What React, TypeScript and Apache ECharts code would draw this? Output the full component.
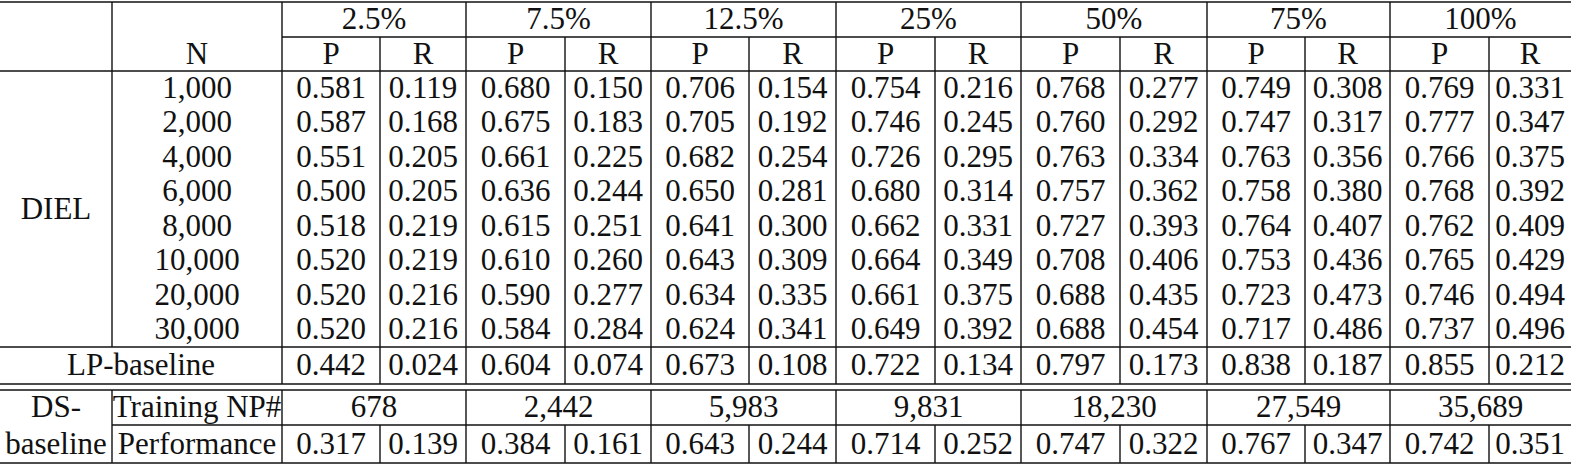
import React, { useEffect, useRef } from 'react';
import * as echarts from 'echarts';

// ---- table content ----
const groups = ['2.5%', '7.5%', '12.5%', '25%', '50%', '75%', '100%'];
const nValues = ['1,000', '2,000', '4,000', '6,000', '8,000', '10,000', '20,000', '30,000'];

// DIEL precision / recall, one row per N, one column per group
const dielP = [
  [0.581, 0.680, 0.706, 0.754, 0.768, 0.749, 0.769],
  [0.587, 0.675, 0.705, 0.746, 0.760, 0.747, 0.777],
  [0.551, 0.661, 0.682, 0.726, 0.763, 0.763, 0.766],
  [0.500, 0.636, 0.650, 0.680, 0.757, 0.758, 0.768],
  [0.518, 0.615, 0.641, 0.662, 0.727, 0.764, 0.762],
  [0.520, 0.610, 0.643, 0.664, 0.708, 0.753, 0.765],
  [0.520, 0.590, 0.634, 0.661, 0.688, 0.723, 0.746],
  [0.520, 0.584, 0.624, 0.649, 0.688, 0.717, 0.737],
];
const dielR = [
  [0.119, 0.150, 0.154, 0.216, 0.277, 0.308, 0.331],
  [0.168, 0.183, 0.192, 0.245, 0.292, 0.317, 0.347],
  [0.205, 0.225, 0.254, 0.295, 0.334, 0.356, 0.375],
  [0.205, 0.244, 0.281, 0.314, 0.362, 0.380, 0.392],
  [0.219, 0.251, 0.300, 0.331, 0.393, 0.407, 0.409],
  [0.219, 0.260, 0.309, 0.349, 0.406, 0.436, 0.429],
  [0.216, 0.277, 0.335, 0.375, 0.435, 0.473, 0.494],
  [0.216, 0.284, 0.341, 0.392, 0.454, 0.486, 0.496],
];
const lpP = [0.442, 0.604, 0.673, 0.722, 0.797, 0.838, 0.855];
const lpR = [0.024, 0.074, 0.108, 0.134, 0.173, 0.187, 0.212];
const dsTraining = ['678', '2,442', '5,983', '9,831', '18,230', '27,549', '35,689'];
const dsP = [0.317, 0.384, 0.643, 0.714, 0.747, 0.767, 0.742];
const dsR = [0.139, 0.161, 0.244, 0.252, 0.322, 0.347, 0.351];

// ---- layout (pixel units on hidden value axes) ----
const W = 1571;
const H = 465;
const colEdges = [0, 112, 282, 380, 466, 565, 651, 749, 836, 935, 1021, 1120, 1207, 1305, 1390, 1489, W];
const dataTop = 71;
const dataBottom = 347;
const rowH = (dataBottom - dataTop) / nValues.length;
const rows: [number, number][] = [
  [2, 37],
  [37, 71],
  ...nValues.map((_, i) => [dataTop + i * rowH, dataTop + (i + 1) * rowH] as [number, number]),
  [347, 384],
  [390, 425],
  [425, 463],
];
const LP = 2 + nValues.length;
const TR = LP + 1;
const PF = LP + 2;

const FONT = 'Liberation Serif';
const FONT_SIZE = 31;
const INK = '#111';

type Cell = { x0: number; x1: number; r0: number; r1: number; text: string };

function buildCells(): Cell[] {
  const cells: Cell[] = [];
  const add = (c0: number, c1: number, r0: number, r1: number, text: string) =>
    cells.push({ x0: colEdges[c0], x1: colEdges[c1 + 1], r0, r1, text });
  groups.forEach((g, gi) => {
    const c = 2 + gi * 2;
    add(c, c + 1, 0, 0, g);
    add(c, c, 1, 1, 'P');
    add(c + 1, c + 1, 1, 1, 'R');
    nValues.forEach((_, i) => {
      add(c, c, 2 + i, 2 + i, dielP[i][gi].toFixed(3));
      add(c + 1, c + 1, 2 + i, 2 + i, dielR[i][gi].toFixed(3));
    });
    add(c, c, LP, LP, lpP[gi].toFixed(3));
    add(c + 1, c + 1, LP, LP, lpR[gi].toFixed(3));
    add(c, c + 1, TR, TR, dsTraining[gi]);
    add(c, c, PF, PF, dsP[gi].toFixed(3));
    add(c + 1, c + 1, PF, PF, dsR[gi].toFixed(3));
  });
  add(1, 1, 1, 1, 'N');
  nValues.forEach((n, i) => add(1, 1, 2 + i, 2 + i, n));
  add(0, 0, 2, 2 + nValues.length - 1, 'DIEL');
  add(0, 1, LP, LP, 'LP-baseline');
  add(0, 0, TR, TR, 'DS-');
  add(0, 0, PF, PF, 'baseline');
  add(1, 1, TR, TR, 'Training NP#');
  add(1, 1, PF, PF, 'Performance');
  return cells;
}

function buildRules(): number[][] {
  const lines: number[][] = [];
  const hl = (y: number, x0 = 0, x1 = W) => lines.push([x0, y, x1, y]);
  const vl = (x: number, y0: number, y1: number) => lines.push([x, y0, x, y1]);
  hl(rows[0][0]);
  hl(rows[1][0], colEdges[2]);
  hl(rows[2][0]);
  hl(rows[LP][0]);
  hl(rows[LP][1]);
  hl(rows[TR][0]);
  hl(rows[PF][0], colEdges[1]);
  hl(rows[PF][1]);
  // N column borders
  vl(colEdges[1], rows[0][0], rows[LP][0]);
  vl(colEdges[1], rows[TR][0], rows[PF][1]);
  vl(colEdges[2], rows[0][0], rows[LP][1]);
  vl(colEdges[2], rows[TR][0], rows[PF][1]);
  groups.forEach((_, gi) => {
    const c = 2 + gi * 2;
    // P | R divider
    vl(colEdges[c + 1], rows[1][0], rows[LP][1]);
    vl(colEdges[c + 1], rows[PF][0], rows[PF][1]);
    // group divider
    if (gi < groups.length - 1) {
      vl(colEdges[c + 2], rows[0][0], rows[LP][1]);
      vl(colEdges[c + 2], rows[TR][0], rows[PF][1]);
    }
  });
  return lines;
}

export default function App() {
  const ref = useRef<HTMLDivElement>(null);

  useEffect(() => {
    if (!ref.current) return;
    const chart = echarts.init(ref.current, null, { renderer: 'svg' });
    const cells = buildCells();
    const rules = buildRules();

    chart.setOption({
      animation: false,
      backgroundColor: '#fff',
      grid: { left: 0, right: 0, top: 0, bottom: 0 },
      xAxis: { type: 'value', min: 0, max: W, show: false },
      yAxis: { type: 'value', min: 0, max: H, inverse: true, show: false },
      series: [
        {
          type: 'custom',
          clip: false,
          silent: true,
          encode: { x: [0, 2], y: [1, 3] },
          data: rules,
          renderItem: (_p: any, api: any) => {
            const a = api.coord([api.value(0), api.value(1)]);
            const b = api.coord([api.value(2), api.value(3)]);
            return {
              type: 'line',
              shape: { x1: a[0], y1: a[1], x2: b[0], y2: b[1] },
              style: { stroke: INK, lineWidth: 1.4 },
            };
          },
        },
        {
          type: 'custom',
          clip: false,
          silent: true,
          encode: { x: [0, 1], y: [2, 3] },
          data: cells.map((c) => [c.x0, c.x1, rows[c.r0][0], rows[c.r1][1]]),
          renderItem: (params: any, api: any) => {
            const a = api.coord([api.value(0), api.value(2)]);
            const b = api.coord([api.value(1), api.value(3)]);
            return {
              type: 'text',
              x: (a[0] + b[0]) / 2,
              y: (a[1] + b[1]) / 2 - 1,
              style: {
                text: cells[params.dataIndex].text,
                fontFamily: FONT,
                fontSize: FONT_SIZE,
                fill: INK,
                align: 'center',
                verticalAlign: 'middle',
              },
            };
          },
        },
      ],
    });

    return () => chart.dispose();
  }, []);

  return (
    <div
      ref={ref}
      style={{ position: 'absolute', left: 0, top: 0, width: W, height: H, background: '#fff' }}
    />
  );
}
